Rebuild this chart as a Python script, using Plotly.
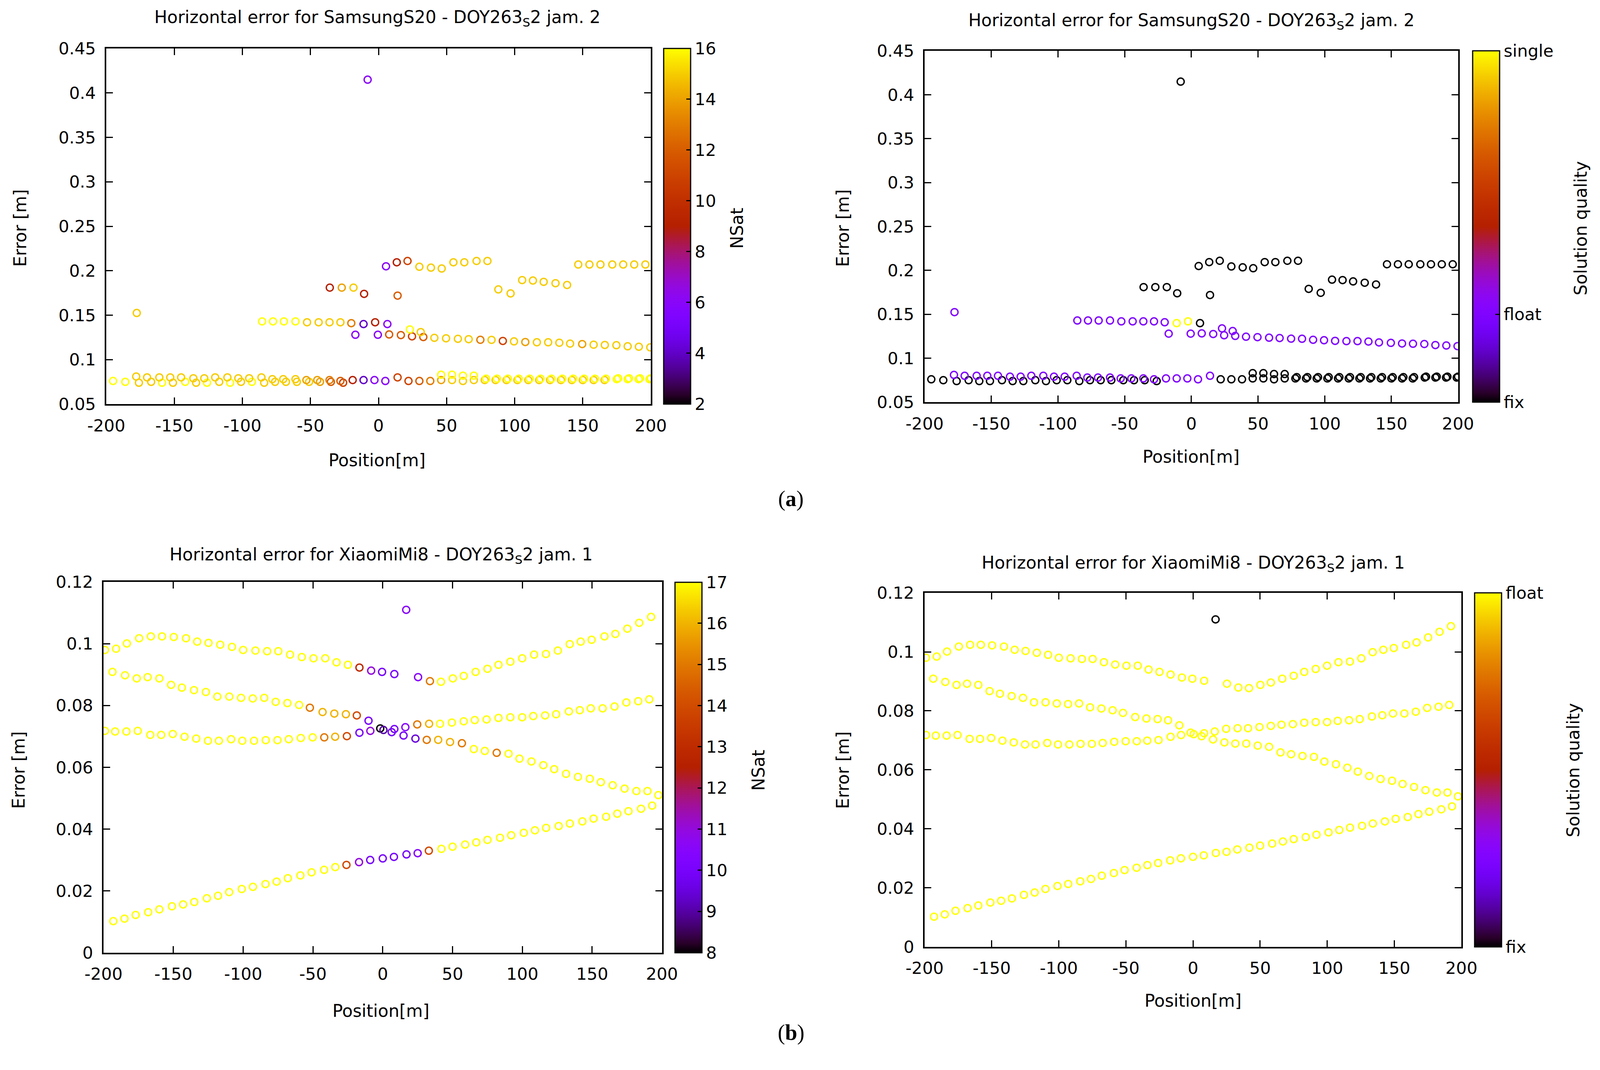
import math
import plotly.graph_objects as go

# ---------------- Samsung S20 (DOY263_S2 jam. 2) ----------------
# lower row, fixed solutions (left half)
s20_low_fix_pos = [-195, -186, -176, -167, -159, -151, -142, -134, -126, -117, -109, -101, -93, -84,
                   -76, -68, -60, -51, -43, -35, -26]
s20_low_fix_err = [0.076, 0.075, 0.074, 0.075, 0.074, 0.074, 0.075, 0.074, 0.074, 0.075, 0.074, 0.075,
                   0.075, 0.074, 0.075, 0.075, 0.075, 0.075, 0.075, 0.075, 0.074]
s20_low_fix_nsat = [16, 16, 15, 15, 16, 15, 16, 15, 16, 15, 16, 15, 16, 15, 15, 15, 15, 15, 14, 12, 11]

# lower row, float solutions
s20_low_flt_pos = [-178, -170, -161, -153, -145, -136, -128, -120, -111, -103, -95, -86, -78, -70,
                   -61, -53, -45, -36, -28, -19, -11, -3, 5, 14]
s20_low_flt_err = [0.081, 0.080, 0.080, 0.080, 0.080, 0.079, 0.079, 0.080, 0.080, 0.079, 0.079, 0.080,
                   0.078, 0.078, 0.078, 0.077, 0.077, 0.077, 0.076, 0.077, 0.077, 0.077, 0.076, 0.080]
s20_low_flt_nsat = [15, 15, 15, 15, 15, 15, 15, 15, 15, 15, 15, 15, 15, 15, 15, 14, 14, 13, 12, 9,
                    4, 6, 6, 11]

# lower row, fixed solutions (right half) + overlapping duplicates
s20_right_fix_pos = [22, 30, 38, 46, 54, 62, 70, 78, 86, 94, 102, 110, 118, 126, 134, 142, 150, 158,
                     166, 175, 183, 191, 199,
                     79, 87, 95, 103, 111, 119, 127, 135, 143, 151, 159, 167, 176, 184, 192, 200,
                     46, 54, 62, 70]
s20_right_fix_err = [0.076, 0.076, 0.076, 0.077, 0.077, 0.076, 0.077, 0.077, 0.077, 0.077, 0.077,
                     0.077, 0.077, 0.077, 0.077, 0.077, 0.077, 0.077, 0.077, 0.078, 0.078, 0.078, 0.078,
                     0.0785, 0.0785, 0.0785, 0.0785, 0.0785, 0.0785, 0.0785, 0.0785, 0.0785, 0.0785,
                     0.0785, 0.0785, 0.079, 0.079, 0.079, 0.079,
                     0.083, 0.083, 0.082, 0.082]
s20_right_fix_nsat = [11, 12, 13, 14, 15, 15, 15, 15, 15, 15, 15, 15, 15, 15, 15, 15, 15, 15, 15, 16,
                      16, 16, 16,
                      16, 16, 16, 16, 16, 16, 16, 16, 16, 16, 16, 16, 16, 16, 16, 16,
                      16, 16, 16, 16]

# row near 0.14 (mixed solution types)
s20_mid_pos = [-85.5, -77.5, -69.5, -61, -52.5, -44, -36, -28, -20, -11, -2.5, 6.5]
s20_mid_err = [0.143, 0.143, 0.143, 0.143, 0.142, 0.142, 0.142, 0.142, 0.141, 0.140, 0.142, 0.140]
s20_mid_nsat = [16, 16, 16, 16, 15, 15, 15, 15, 13, 4, 9, 6]
s20_mid_sol = [2, 2, 2, 2, 2, 2, 2, 2, 2, 5, 5, 1]

# slowly descending float row
s20_desc_pos = [-177.6, -17, -0.5, 7.8, 16.4, 24.6, 32.9, 41, 49.6, 58.3, 66.2, 74.8, 83, 91.3, 99.5,
                107.8, 116.3, 124.6, 132.8, 140.7, 149.6, 158, 166.2, 174.7, 183, 191.2, 199.6, 23, 31]
s20_desc_err = [0.1525, 0.128, 0.128, 0.1283, 0.1276, 0.1262, 0.1254, 0.1245, 0.124, 0.1234, 0.123,
                0.1223, 0.1222, 0.121, 0.1205, 0.1198, 0.1195, 0.1195, 0.119, 0.118, 0.1175, 0.1168,
                0.1165, 0.1162, 0.115, 0.1145, 0.1138, 0.134, 0.131]
s20_desc_nsat = [15, 6, 6, 12, 12, 11, 12, 15, 15, 15, 15, 13, 15, 11, 15, 14, 15, 15, 15, 15, 14, 15,
                 15, 15, 15, 15, 15, 16, 15]

# upper fixed points (0.17 - 0.42)
s20_up_pos = [-8, -35.8, -27, -18.4, -10.6, 14, 5.5, 13.4, 21.3, 30, 38.5, 46.4, 55, 63, 72, 80,
              88, 97, 105.5, 113.4, 121.3, 130, 138.5, 146.7, 154.9, 163, 171.7, 179.7, 187.8, 196]
s20_up_err = [0.415, 0.181, 0.181, 0.181, 0.174, 0.172, 0.205, 0.2095, 0.211, 0.2045, 0.2035, 0.2025,
              0.2095, 0.2095, 0.211, 0.211, 0.179, 0.1745, 0.1895, 0.189, 0.1875, 0.186, 0.184,
              0.207, 0.207, 0.207, 0.207, 0.207, 0.207, 0.207]
s20_up_nsat = [6, 9, 14, 15, 9, 12, 6, 9, 11, 15, 15, 15, 15, 15, 15, 15, 15, 15, 15, 15, 15, 15, 15,
               15, 15, 15, 15, 15, 15, 15]

# ---------------- Xiaomi Mi8 (DOY263_S2 jam. 1) ----------------
mi8_a_pos = [-199, -191, -183.3, -174.5, -166.1, -158.1, -149.7, -140.9, -132.9, -124.8, -116.4, -108,
             -100, -91.2, -82.8, -74.8, -66.4, -58, -49.6, -41.2, -33.1, -25, -16.7, -8.3, -0.5, 8.3,
             25.3, 33.8, 41.7, 50.2, 58, 66.5, 75, 82.9, 91.4, 99.9, 108.4, 116.9, 125.4, 133.9, 141.8,
             149.6, 158.8, 166.6, 175.2, 183.7, 192.2]
mi8_a_err = [0.098, 0.0984, 0.1001, 0.1018, 0.1024, 0.1024, 0.1022, 0.1018, 0.1007, 0.1003, 0.0997,
             0.099, 0.098, 0.0978, 0.0976, 0.0976, 0.0965, 0.0957, 0.0953, 0.0953, 0.094, 0.0932, 0.0923,
             0.0913, 0.0909, 0.0902, 0.0892, 0.0879, 0.0877, 0.0888, 0.0896, 0.0909, 0.0919, 0.0932,
             0.0942, 0.0953, 0.0965, 0.0967, 0.0978, 0.0999, 0.1007, 0.1013, 0.1024, 0.1032, 0.1049,
             0.1068, 0.1087]
mi8_a_nsat = [17, 17, 17, 17, 17, 17, 17, 17, 17, 17, 17, 17, 17, 17, 17, 17, 17, 17, 17, 17, 17, 17,
              13, 11, 10, 10, 10.5, 15, 17, 17, 17, 17, 17, 17, 17, 17, 17, 17, 17, 17, 17, 17, 17, 17,
              17, 17, 17]

mi8_b_pos = [-193.6, -184.6, -176.2, -168.4, -160, -151.6, -143.9, -135.2, -126.7, -118.5, -109.9,
             -101.5, -93.1, -84.9, -76.7, -68.3, -59.9, -52.2, -43.1, -34.7, -26.4, -18.6, -10.2, -1.8,
             6.4, 14.9, 23.4, 31.5, 39.7, 48.2, 56.7, 65.2, 73.1, 81.6, 90.1, 97.9, 106.5, 115, 122.8,
             131.3, 139.8, 148.3, 156.2, 164.7, 173.2, 181.7, 189.6, 197.4]
mi8_b_err = [0.0909, 0.0898, 0.0888, 0.0892, 0.0888, 0.0867, 0.0858, 0.085, 0.0844, 0.0829, 0.0829,
             0.0825, 0.0823, 0.0825, 0.0812, 0.0808, 0.0802, 0.0793, 0.0779, 0.0774, 0.0772, 0.0768,
             0.0751, 0.0726, 0.0714, 0.0703, 0.0693, 0.0689, 0.0689, 0.0682, 0.0678, 0.0659, 0.0653,
             0.0647, 0.0644, 0.0628, 0.0619, 0.0607, 0.0594, 0.0579, 0.0569, 0.0563, 0.0552, 0.0542,
             0.0531, 0.0523, 0.0523, 0.051]
mi8_b_nsat = [17, 17, 17, 17, 17, 17, 17, 17, 17, 17, 17, 17, 17, 17, 17, 17, 17, 15, 16, 16, 16, 14,
              10, 8, 10, 10, 9.5, 15, 16, 16, 15, 17, 17, 15, 17, 17, 17, 17, 17, 17, 17, 17, 17, 17,
              17, 17, 17, 17]

mi8_c_pos = [-199, -191.7, -183.6, -175.5, -166.5, -158.7, -150.4, -142, -133.6, -125.2, -117.4,
             -108.6, -100.6, -92.2, -83.8, -75.4, -67.3, -58.7, -50.2, -41.9, -34.1, -25.7, -16.7, -8.9,
             0.5, 8.3, 16.2, 24.7, 33.2, 41, 49.5, 58, 65.9, 74.4, 82.9, 91.4, 99.9, 107.8, 116.3,
             124.2, 133.3, 141.1, 149, 157.5, 166, 174.5, 183, 190.9]
mi8_c_err = [0.0718, 0.0716, 0.0716, 0.0718, 0.0705, 0.0705, 0.0708, 0.0699, 0.0693, 0.0686, 0.0686,
             0.0691, 0.0686, 0.0686, 0.0688, 0.0688, 0.0691, 0.0695, 0.0697, 0.0697, 0.0699, 0.0701,
             0.0712, 0.0718, 0.0721, 0.0724, 0.073, 0.0739, 0.0741, 0.0741, 0.0745, 0.0749, 0.0753,
             0.0755, 0.076, 0.0762, 0.0762, 0.0766, 0.0768, 0.0772, 0.0781, 0.0785, 0.0791, 0.0791,
             0.0797, 0.081, 0.0814, 0.082]
mi8_c_nsat = [17, 17, 17, 17, 17, 17, 17, 17, 17, 17, 17, 17, 17, 17, 17, 17, 17, 17, 17, 15, 16, 14,
              10, 11, 9, 10, 10.5, 15, 16, 17, 17, 17, 17, 17, 17, 17, 17, 17, 17, 17, 17, 17, 17, 17,
              17, 17, 17, 17]

mi8_d_pos = [-193, -185, -177, -168, -160, -151, -143, -135, -126, -118, -110, -101, -93, -84, -76,
             -68, -59, -51, -42, -34, -26, -17, -9, 0, 8, 17, 25, 33, 42, 50, 59, 67, 75, 84, 92, 101,
             109, 117, 126, 134, 143, 151, 160, 168, 176, 185, 193]
mi8_d_err = [0.0102, 0.011, 0.0122, 0.0131, 0.014, 0.015, 0.0156, 0.0164, 0.0176, 0.0184, 0.0196,
             0.0206, 0.0213, 0.0222, 0.023, 0.0241, 0.025, 0.026, 0.0268, 0.0277, 0.0284, 0.0293, 0.03,
             0.0305, 0.031, 0.0318, 0.0322, 0.033, 0.0336, 0.0343, 0.035, 0.0357, 0.0365, 0.0372,
             0.038, 0.0388, 0.0396, 0.0404, 0.041, 0.0418, 0.0425, 0.0434, 0.044, 0.045, 0.0458,
             0.0466, 0.0476]
mi8_d_nsat = [17, 17, 17, 17, 17, 17, 17, 17, 17, 17, 17, 17, 17, 17, 17, 17, 17, 17, 17, 17, 14, 11,
              10, 10, 10, 10, 10.5, 14, 17, 17, 17, 17, 17, 17, 17, 17, 17, 17, 17, 17, 17, 17, 17, 17,
              17, 17, 17]

# single fixed epoch
mi8_fix_pos = [16.8]
mi8_fix_err = [0.111]
mi8_fix_nsat = [10.5]

# solution quality codes (RTKLIB style)
SOL_FIX, SOL_FLOAT, SOL_SINGLE = 1, 2, 5

# axis tick labels
pos_ticks = [-200, -150, -100, -50, 0, 50, 100, 150, 200]
pos_labels = ["-200", "-150", "-100", "-50", "0", "50", "100", "150", "200"]

# ---------------- assemble ----------------
s20_pos = (s20_low_fix_pos + s20_low_flt_pos + s20_right_fix_pos + s20_mid_pos
           + s20_desc_pos + s20_up_pos)
s20_err = (s20_low_fix_err + s20_low_flt_err + s20_right_fix_err + s20_mid_err
           + s20_desc_err + s20_up_err)
s20_nsat = (s20_low_fix_nsat + s20_low_flt_nsat + s20_right_fix_nsat + s20_mid_nsat
            + s20_desc_nsat + s20_up_nsat)
s20_sol = ([SOL_FIX] * len(s20_low_fix_pos) + [SOL_FLOAT] * len(s20_low_flt_pos)
           + [SOL_FIX] * len(s20_right_fix_pos) + s20_mid_sol
           + [SOL_FLOAT] * len(s20_desc_pos) + [SOL_FIX] * len(s20_up_pos))

mi8_pos = mi8_a_pos + mi8_b_pos + mi8_c_pos + mi8_d_pos + mi8_fix_pos
mi8_err = mi8_a_err + mi8_b_err + mi8_c_err + mi8_d_err + mi8_fix_err
mi8_nsat = mi8_a_nsat + mi8_b_nsat + mi8_c_nsat + mi8_d_nsat + mi8_fix_nsat
mi8_sol = [SOL_FLOAT] * (len(mi8_pos) - len(mi8_fix_pos)) + [SOL_FIX] * len(mi8_fix_pos)

# gnuplot default pm3d palette (rgbformulae 7,5,15)
palette = []
for i in range(41):
    t = i / 40
    r = math.sqrt(t)
    g = t ** 3
    b = max(0.0, math.sin(2 * math.pi * t))
    palette.append([t, f"rgb({round(255 * r)},{round(255 * g)},{round(255 * b)})"])

FONT = "DejaVu Sans"
# the page is photographed through a 4096 px wide viewport, keep the figure inside it
W, H = 4080, 2722

# panel boxes in paper coords, colorbar left edge
panels = [
    dict(dom_x=[0.0647, 0.4064], dom_y=[0.6231, 0.9573], cb_x=0.4145),
    dict(dom_x=[0.5782, 0.9129], dom_y=[0.6249, 0.9551], cb_x=0.9220),
    dict(dom_x=[0.0630, 0.4134], dom_y=[0.1074, 0.4558], cb_x=0.4216),
    dict(dom_x=[0.5782, 0.9150], dom_y=[0.1129, 0.4456], cb_x=0.9234),
]

fig = go.Figure()

traces = [
    (s20_pos, s20_err, s20_nsat),
    (s20_pos, s20_err, s20_sol),
    (mi8_pos, mi8_err, mi8_nsat),
    (mi8_pos, mi8_err, mi8_sol),
]
for k, (px_, py_, pc_) in enumerate(traces):
    sfx = "" if k == 0 else str(k + 1)
    fig.add_trace(go.Scatter(
        x=px_, y=py_, mode="markers",
        xaxis="x" + sfx, yaxis="y" + sfx,
        marker=dict(symbol="circle-open", size=18, color=pc_,
                    coloraxis="coloraxis" + sfx, line=dict(width=3.5)),
        showlegend=False,
    ))

tick_font = dict(family=FONT, size=43, color="black")
axis_common = dict(showline=True, linecolor="black", linewidth=4, mirror="allticks",
                   ticks="inside", ticklen=17, tickwidth=3, tickcolor="black",
                   showgrid=False, zeroline=False, tickfont=tick_font, automargin=False)

layout = dict(width=W, height=H, paper_bgcolor="white", plot_bgcolor="white",
              margin=dict(l=0, r=0, t=0, b=0), showlegend=False)

y_ranges = [[0.05, 0.45], [0.05, 0.45], [0, 0.12], [0, 0.12]]
y_dticks = [0.05, 0.05, 0.02, 0.02]
cbars = [
    dict(cmin=2, cmax=16, tickvals=[2, 4, 6, 8, 10, 12, 14, 16], ticktext=None),
    dict(cmin=1, cmax=5, tickvals=[1, 2, 5], ticktext=["fix", "float", "single"]),
    dict(cmin=8, cmax=17, tickvals=[8, 9, 10, 11, 12, 13, 14, 15, 16, 17], ticktext=None),
    dict(cmin=1, cmax=2, tickvals=[1, 2], ticktext=["fix", "float"]),
]

for k, p in enumerate(panels):
    sfx = "" if k == 0 else str(k + 1)
    layout["xaxis" + sfx] = dict(axis_common, domain=p["dom_x"], range=[-200, 200],
                                 tickvals=pos_ticks, ticktext=pos_labels, anchor="y" + sfx,
                                 ticklabelstandoff=14)
    layout["yaxis" + sfx] = dict(axis_common, domain=p["dom_y"], range=y_ranges[k],
                                 dtick=y_dticks[k], tick0=0, anchor="x" + sfx,
                                 ticklabelstandoff=14)
    cb = cbars[k]
    colorbar = dict(x=p["cb_x"], xanchor="left", y=p["dom_y"][0], yanchor="bottom",
                    len=p["dom_y"][1] - p["dom_y"][0], lenmode="fraction",
                    thickness=69, thicknessmode="pixels", outlinewidth=3, outlinecolor="black",
                    ticks="inside", ticklen=12, tickwidth=3, tickcolor="black",
                    tickvals=cb["tickvals"], tickfont=tick_font, xpad=0, ypad=0)
    if cb["ticktext"]:
        colorbar["ticktext"] = cb["ticktext"]
    layout["coloraxis" + sfx] = dict(colorscale=palette, cmin=cb["cmin"], cmax=cb["cmax"],
                                     colorbar=colorbar)

fig.update_layout(**layout)

# titles, axis labels, colorbar labels
lab_font = dict(family=FONT, size=44, color="black")
texts = [
    # panel titles
    (0.2347, 0.986, "Horizontal error for SamsungS20 - DOY263<sub>S</sub>2 jam. 2", 0),
    (0.7455, 0.983, "Horizontal error for SamsungS20 - DOY263<sub>S</sub>2 jam. 2", 0),
    (0.2372, 0.4808, "Horizontal error for XiaomiMi8 - DOY263<sub>S</sub>2 jam. 1", 0),
    (0.7468, 0.4730, "Horizontal error for XiaomiMi8 - DOY263<sub>S</sub>2 jam. 1", 0),
    # x titles
    (0.2347, 0.5705, "Position[m]", 0),
    (0.7455, 0.5738, "Position[m]", 0),
    (0.2372, 0.0526, "Position[m]", 0),
    (0.7468, 0.0622, "Position[m]", 0),
    # y titles
    (0.0108, 0.7885, "Error [m]", -90),
    (0.5268, 0.7885, "Error [m]", -90),
    (0.0096, 0.2790, "Error [m]", -90),
    (0.5268, 0.2790, "Error [m]", -90),
    # colorbar titles
    (0.4605, 0.7885, "NSat", -90),
    (0.9900, 0.7885, "Solution quality", -90),
    (0.4740, 0.2790, "NSat", -90),
    (0.9853, 0.2790, "Solution quality", -90),
]
for tx, ty, txt, ang in texts:
    fig.add_annotation(x=tx, y=ty, xref="paper", yref="paper", text=txt, showarrow=False,
                       textangle=ang, font=lab_font, xanchor="center", yanchor="middle")

panel_font = dict(family="Liberation Serif", size=56, color="black")
fig.add_annotation(x=0.4943, y=0.534, xref="paper", yref="paper", text="(<b>a</b>)",
                   showarrow=False, font=panel_font)
fig.add_annotation(x=0.4943, y=0.020, xref="paper", yref="paper", text="(<b>b</b>)",
                   showarrow=False, font=panel_font)

fig.write_html("out.html")
